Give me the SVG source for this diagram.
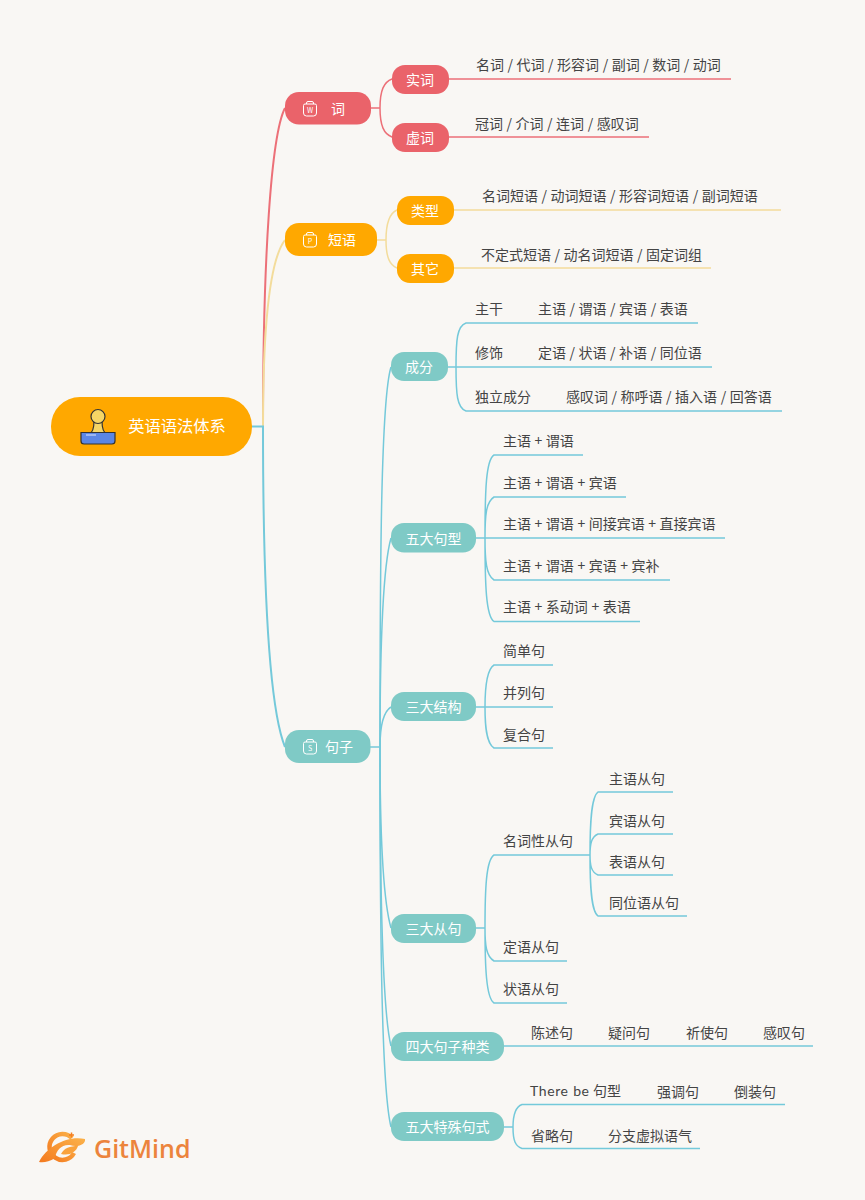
<svg xmlns="http://www.w3.org/2000/svg" width="865" height="1200" viewBox="0 0 865 1200">
<defs>
<linearGradient id="lg" x1="0" y1="1" x2="1" y2="0"><stop offset="0" stop-color="#f47a1f"/><stop offset="1" stop-color="#fbb24a"/></linearGradient>
<g id="clip"><path d="M-5 -5H5Q6.500 -5 6.500 -3.500V4Q6.500 7 3.500 7H-3.500Q-6.500 7 -6.500 4V-3.500Q-6.500 -5 -5 -5Z"/><path d="M-3.500 -5V-6Q-3.500 -7.500 -2 -7.500H2Q3.500 -7.500 3.500 -6V-5"/></g>
</defs>
<style>
text{font-family:"Noto Sans CJK SC","Noto Sans",sans-serif;font-size:14px;dominant-baseline:central;fill:#444}
#labels text{word-spacing:.4px}
.n text{fill:#fff;text-anchor:middle}
.r rect{fill:#ea636a}.o rect{fill:#ffa800}.t rect{fill:#7fcac6}
.c path{fill:none;stroke-width:1.500}
.cr{stroke:#ec7078}.co{stroke:#f3dc9b}.ct{stroke:#74c9da}
.ic{fill:none;stroke:#fff;stroke-width:1}
.ic text{font-size:7px;text-anchor:middle;fill:#fff;stroke:none}
</style>
<rect width="865" height="1200" fill="#f9f7f4"/>
<g id="connectors" class="c">
<path class="cr" style="stroke-width:2" d="M263 426C263 260 271 135 285 108"/>
<path class="co" style="stroke-width:2" d="M263 426C263 340 268 262 285 240"/>
<path class="ct" style="stroke-width:2" d="M252 426.500H263C263 600 270 710 285 747"/>
<path class="cr" d="M371 108H380M380 108C380 90 384 82 392 79H731M380 108C380 126 384 134 392 137H649"/>
<path class="co" d="M377 240H386M386 240C386 222 390 213 397 210H781M386 240C386 258 390 265 397 268H711"/>
<path class="ct" d="M370 747H380"/>
<path class="ct" d="M380 747C380 560 381 400 391 367"/>
<path class="ct" d="M380 747C380 650 382 570 391 538"/>
<path class="ct" d="M380 747C380 728 383 712 391 707"/>
<path class="ct" d="M380 747C380 830 383 900 391 928"/>
<path class="ct" d="M380 747C380 880 382 1010 391 1046"/>
<path class="ct" d="M380 747C380 950 382 1090 391 1127"/>
<path class="ct" d="M448 367H712M456 367C456 340 457 326 466 323H698M456 367C456 394 457 408 466 411H782"/>
<path class="ct" d="M476 538H725M485 538C485 490 486 460 494 455H583M485 538C485 515 486 502 494 497H626M485 538C485 560 486 575 494 580H670M485 538C485 585 486 616 494 621.500H640"/>
<path class="ct" d="M476 707H553M485 707C485 690 486 670 494 665H553M485 707C485 725 486 743 494 748H553"/>
<path class="ct" d="M476 928H485M485 928C485 890 486 860 494 855H590M485 928C485 945 486 956 494 961H567M485 928C485 965 486 998 494 1003H567"/>
<path class="ct" d="M590 855C590 825 591 797 598 792H673M590 855C590 845 591 837 598 834H673M590 855C590 865 591 872 598 875H673M590 855C590 885 591 911 598 916H687"/>
<path class="ct" d="M504 1046H813"/>
<path class="ct" d="M504 1127H513M513 1127C513 1115 515 1107 522 1104.500H785M513 1127C513 1140 515 1146 522 1148.500H700"/>
</g>
<g id="root" class="n o"><rect x="51" y="397" width="201" height="59" rx="29"/>
<g stroke="#333" stroke-width="1.200"><path d="M94 421C94 428 92 433 89 434H107C104 433 102 428 102 421Z" fill="#f5d565"/><circle cx="98" cy="416.500" r="7" fill="#f5d565"/><path d="M81 432.500H115V441Q115 444 112 444H84Q81 444 81 441Z" fill="#5b86e5"/><path d="M86 435H96" stroke="#dfe8ff" stroke-width="1"/></g>
<text x="177" y="425" style="font-size:16.300px">英语语法体系</text></g>
<g id="w" class="n r"><rect x="285" y="92" width="86" height="32.500" rx="14"/><g class="ic"><use href="#clip" x="310" y="109"/><text x="310" y="109.500">W</text></g><text x="338" y="108">词</text></g>
<g id="p" class="n o"><rect x="285" y="223" width="92" height="33" rx="14"/><g class="ic"><use href="#clip" x="310" y="240"/><text x="310" y="240.500">P</text></g><text x="342" y="239">短语</text></g>
<g id="s" class="n t"><rect x="285" y="730" width="85.500" height="33" rx="14"/><g class="ic"><use href="#clip" x="310" y="747"/><text x="310" y="747.500">S</text></g><text x="339" y="746">句子</text></g>
<g id="a1" class="n r"><rect x="392" y="65" width="57" height="29" rx="13"/><text x="420" y="78.500">实词</text></g>
<g id="a2" class="n r"><rect x="392" y="123" width="57" height="29" rx="13"/><text x="420" y="136.500">虚词</text></g>
<g id="b1" class="n o"><rect x="397" y="196" width="57" height="29" rx="13"/><text x="425" y="209.500">类型</text></g>
<g id="b2" class="n o"><rect x="397" y="254" width="57" height="29" rx="13"/><text x="425" y="267.500">其它</text></g>
<g id="c1" class="n t"><rect x="391" y="352" width="57" height="29" rx="13"/><text x="419" y="366">成分</text></g>
<g id="c2" class="n t"><rect x="391" y="523" width="85" height="29.500" rx="13"/><text x="433.500" y="537.500">五大句型</text></g>
<g id="c3" class="n t"><rect x="391" y="692" width="85" height="29" rx="13"/><text x="433.500" y="706">三大结构</text></g>
<g id="c4" class="n t"><rect x="391" y="914" width="85" height="29" rx="13"/><text x="433.500" y="928">三大从句</text></g>
<g id="c5" class="n t"><rect x="391" y="1032" width="113" height="29" rx="13"/><text x="447.500" y="1046">四大句子种类</text></g>
<g id="c6" class="n t"><rect x="391" y="1112" width="113" height="29" rx="13"/><text x="447.500" y="1126">五大特殊句式</text></g>
<g id="labels">
<text x="476" y="64">名词 / 代词 / 形容词 / 副词 / 数词 / 动词</text>
<text x="475" y="122.500">冠词 / 介词 / 连词 / 感叹词</text>
<text x="482" y="195">名词短语 / 动词短语 / 形容词短语 / 副词短语</text>
<text x="481" y="253.500">不定式短语 / 动名词短语 / 固定词组</text>
<text x="475" y="308">主干</text><text x="538" y="308">主语 / 谓语 / 宾语 / 表语</text>
<text x="475" y="352">修饰</text><text x="538" y="352">定语 / 状语 / 补语 / 同位语</text>
<text x="475" y="396">独立成分</text><text x="566" y="396">感叹词 / 称呼语 / 插入语 / 回答语</text>
<text x="503" y="440">主语 + 谓语</text>
<text x="503" y="481.500">主语 + 谓语 + 宾语</text>
<text x="503" y="523">主语 + 谓语 + 间接宾语 + 直接宾语</text>
<text x="503" y="565">主语 + 谓语 + 宾语 + 宾补</text>
<text x="503" y="606">主语 + 系动词 + 表语</text>
<text x="503" y="650">简单句</text><text x="503" y="692">并列句</text><text x="503" y="733.500">复合句</text>
<text x="503" y="840">名词性从句</text><text x="609" y="777.500">主语从句</text><text x="609" y="819.500">宾语从句</text><text x="609" y="860.500">表语从句</text><text x="609" y="902">同位语从句</text>
<text x="503" y="946">定语从句</text><text x="503" y="988">状语从句</text>
<text x="531" y="1032">陈述句</text><text x="608" y="1032">疑问句</text><text x="686" y="1032">祈使句</text><text x="763" y="1032">感叹句</text>
<text x="530" y="1089.500"><tspan letter-spacing=".6" font-family="'Lato','Noto Sans',sans-serif">There be</tspan> 句型</text><text x="657" y="1090.500">强调句</text><text x="734" y="1090.500">倒装句</text>
<text x="531" y="1134.500">省略句</text><text x="608" y="1134.500">分支虚拟语气</text>
</g>
<g id="logo"><path d="M72 1138A13 13 0 1 0 74 1153" fill="none" stroke="url(#lg)" stroke-width="4.500"/><path d="M39 1162C47 1146 68 1135 85 1139C86 1144 78 1148 70 1145C62 1144 56 1150 55 1158C49 1162 43 1163 39 1162Z" fill="url(#lg)"/><path d="M61 1154C64 1148 70 1146 78 1146C76 1152 70 1156 61 1154Z" fill="#f9a23c"/><path d="M69 1135h5M71.500 1132.500v5" stroke="#f5801f" stroke-width="1.500"/><text x="94" y="1148" style="font-family:'Open Sans','Noto Sans',sans-serif;font-size:25px;font-weight:600;fill:#ec843c">GitMind</text></g>
</svg>
